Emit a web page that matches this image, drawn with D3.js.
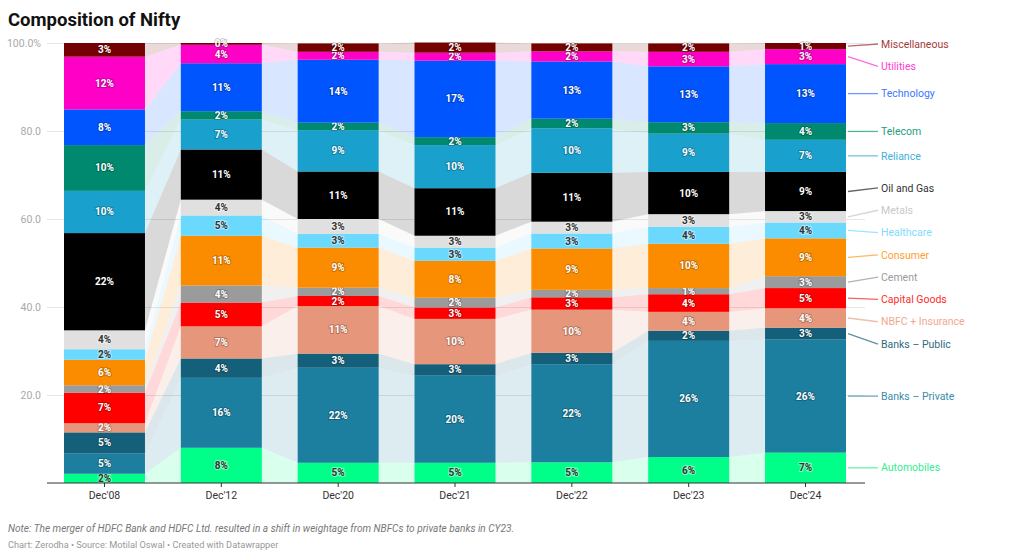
<!DOCTYPE html>
<html>
<meta charset="utf-8">
<style>
    body { margin: 0; background: #fff; }
    svg { display: block; font-family: Roboto, 'Noto Sans', sans-serif; }
    g.tick > text { font-family: Roboto, sans-serif; }
</style>
<body>
<svg width="1024" height="558"></svg>

<script src="https://d3js.org/d3.v7.min.js"></script>
<script>
    // years on the x axis
    let years = ["Dec'08", "Dec'12", "Dec'20", "Dec'21", "Dec'22", "Dec'23", "Dec'24"];

    // sectors, bottom of the stack first
    let sectors = ["Automobiles", "Banks – Private", "Banks – Public", "NBFC + Insurance",
                   "Capital Goods", "Cement", "Consumer", "Healthcare", "Metals",
                   "Oil and Gas", "Reliance", "Telecom", "Technology", "Utilities", "Miscellaneous"];

    // weight in Nifty (%), same order as sectors
    let dec08 = [2.1, 4.6, 4.8, 2.1, 6.9, 1.7, 5.8, 2.4, 4.3, 22.1, 9.6, 10.4, 8.1, 12.0, 3.1];
    let dec12 = [8.0, 15.9, 4.4, 7.3, 5.4, 3.9, 11.3, 4.6, 3.6, 11.4, 6.8, 1.9, 10.9, 4.2, 0.4];
    let dec20 = [4.6, 21.6, 3.2, 10.8, 2.3, 1.9, 9.1, 3.1, 3.4, 10.8, 9.4, 1.7, 14.3, 1.8, 1.9];
    let dec21 = [4.6, 19.8, 2.6, 10.3, 2.6, 2.2, 8.4, 3.0, 2.7, 10.8, 9.8, 1.8, 17.4, 1.8, 2.3];
    let dec22 = [4.7, 22.3, 2.6, 9.8, 2.8, 1.7, 9.4, 3.4, 2.7, 11.1, 10.1, 2.2, 13.0, 2.3, 1.8];
    let dec23 = [5.9, 26.4, 2.3, 4.3, 4.0, 1.4, 10.1, 3.8, 2.9, 9.6, 8.7, 2.6, 12.7, 3.3, 1.9];
    let dec24 = [6.9, 25.7, 2.7, 4.4, 4.6, 2.7, 8.6, 3.6, 2.6, 8.9, 7.3, 3.8, 13.4, 3.4, 1.4];

    let yTicks = [20, 40, 60, 80, 100];

    let colors = ["#00ff88", "#1c7fa0", "#145f79", "#e6967a", "#ff0000", "#9b9b9b", "#fb8c00",
                  "#6bd8fd", "#e0e0e0", "#000000", "#19a0cc", "#00896e", "#0055fe", "#ff00c6", "#750000"];
    let labelColors = ["#33ee8f", "#3a8cab", "#2f6a82", "#f0a88f", "#ff2a2a", "#9a9a9a", "#ffa030",
                       "#80dcfc", "#c8c8c8", "#333333", "#3fb0d8", "#1f9c80", "#3a78ff", "#ff3dd2", "#a33a3a"];
    let darkText = ["Automobiles", "Metals", "Healthcare"];

    let allYears = [dec08, dec12, dec20, dec21, dec22, dec23, dec24];
    let rows = years.map(function(yr, i) {
        let row = {year: yr};
        sectors.forEach(function(s, j) { row[s] = allYears[i][j]; });
        return row;
    });
    let colorOf = {}, labelColorOf = {};
    sectors.forEach(function(s, j) { colorOf[s] = colors[j]; labelColorOf[s] = labelColors[j]; });

    let plotLeft = 47, plotRight = 865;

    let svg = d3.select("svg");

    let x = d3.scaleBand().domain(years).range([64, 846]).paddingInner(0.307).paddingOuter(0);
    let y = d3.scaleLinear().domain([0, 100]).range([483, 43]);
    let bw = x.bandwidth();

    let series = d3.stack().keys(sectors)(rows);

    // title
    svg.append("text").attr("x", 8).attr("y", 26)
        .text("Composition of Nifty")
        .style("font-size", "18.5px").style("font-weight", "700").style("fill", "#111");

    // y grid + labels
    let yAxis = svg.append("g")
        .attr("transform", "translate(" + plotLeft + ",0)")
        .call(d3.axisLeft(y).tickValues(yTicks)
            .tickSize(-(plotRight - plotLeft)).tickPadding(6)
            .tickFormat(function(d) { return d === 100 ? "100.0%" : d.toFixed(1); }));
    yAxis.select(".domain").remove();
    yAxis.selectAll(".tick line").attr("stroke", "#e6e6e6");
    yAxis.selectAll(".tick text").style("font-size", "10.5px").style("fill", "#aaaaaa");

    // flows between bars
    let area = d3.area()
        .x(function(d) { return d.x; })
        .y0(function(d) { return y(d.y0); })
        .y1(function(d) { return y(d.y1); });

    svg.append("g").selectAll("path")
        .data(series)
        .join("path")
        .attr("d", function(s) {
            let pts = [];
            s.forEach(function(d) {
                let x0 = x(d.data.year);
                pts.push({x: x0, y0: d[0], y1: d[1]});
                pts.push({x: x0 + bw, y0: d[0], y1: d[1]});
            });
            return area(pts);
        })
        .style("fill", function(s) { return colorOf[s.key]; })
        .style("opacity", 0.15);

    // bars
    let layers = svg.append("g").selectAll("g")
        .data(series)
        .join("g")
        .style("fill", function(s) { return colorOf[s.key]; });

    layers.selectAll("rect")
        .data(function(s) { return s.map(function(d) { d.key = s.key; return d; }); })
        .join("rect")
        .attr("x", function(d) { return x(d.data.year); })
        .attr("y", function(d) { return y(d[1]); })
        .attr("width", bw)
        .attr("height", function(d) { return y(d[0]) - y(d[1]); });

    // value labels
    layers.selectAll("text")
        .data(function(s) { return s; })
        .join("text")
        .attr("x", function(d) { return x(d.data.year) + bw / 2; })
        .attr("y", function(d) { return (y(d[0]) + y(d[1])) / 2; })
        .attr("text-anchor", "middle")
        .attr("dy", "0.35em")
        .text(function(d) { return Math.round(d[1] - d[0]) + "%"; })
        .style("font-size", "10px")
        .style("font-weight", "700")
        .style("paint-order", "stroke")
        .style("stroke-width", 2)
        .style("stroke", function(d) { return darkText.includes(d.key) ? "rgba(255,255,255,0.5)" : "rgba(0,0,0,0.22)"; })
        .style("fill", function(d) { return darkText.includes(d.key) ? "#333" : "#fff"; });

    // x axis
    let xAxis = svg.append("g")
        .attr("transform", "translate(0," + y(0) + ")")
        .call(d3.axisBottom(x).tickSize(4).tickSizeOuter(0).tickPadding(5));
    xAxis.select(".domain").remove();
    xAxis.selectAll(".tick line").attr("stroke", "#333");
    xAxis.selectAll(".tick text").style("font-size", "10.5px").style("fill", "#333");
    svg.append("line")
        .attr("x1", plotLeft).attr("x2", plotRight)
        .attr("y1", y(0)).attr("y2", y(0))
        .attr("stroke", "#333").attr("stroke-width", 1);

    // direct labels on the right, spread so they do not collide
    let last = series.map(function(s) {
        let d = s[s.length - 1];
        return {key: s.key, y: (y(d[0]) + y(d[1])) / 2};
    }).sort(function(a, b) { return a.y - b.y; });

    let gap = 22.3, minY = 44;
    let clusters = last.map(function(d) { return [d]; });
    function clusterTop(c) {
        let m = d3.mean(c, function(d) { return d.y; });
        return Math.max(minY, m - (c.length - 1) * gap / 2);
    }
    let merged = true;
    while (merged) {
        merged = false;
        for (let i = 0; i < clusters.length - 1; i++) {
            let a = clusters[i], b = clusters[i + 1];
            let aEnd = clusterTop(a) + (a.length - 1) * gap;
            if (clusterTop(b) - aEnd < gap) {
                clusters.splice(i, 2, a.concat(b));
                merged = true;
                break;
            }
        }
    }
    clusters.forEach(function(c) {
        let t = clusterTop(c);
        c.forEach(function(d, i) { d.ly = t + i * gap; });
    });

    let legend = svg.append("g").selectAll("g")
        .data(last)
        .join("g");
    legend.append("line")
        .attr("x1", 848).attr("y1", function(d) { return d.y; })
        .attr("x2", 878).attr("y2", function(d) { return d.ly; })
        .attr("stroke", function(d) { return labelColorOf[d.key]; })
        .attr("stroke-width", 1.3)
        .attr("opacity", 0.75);
    legend.append("text")
        .attr("x", 881).attr("y", function(d) { return d.ly; })
        .attr("dy", "0.35em")
        .text(function(d) { return d.key; })
        .style("font-size", "10.5px")
        .style("fill", function(d) { return labelColorOf[d.key]; });

    // notes
    svg.append("text").attr("x", 8).attr("y", 532)
        .text("Note: The merger of HDFC Bank and HDFC Ltd. resulted in a shift in weightage from NBFCs to private banks in CY23.")
        .style("font-size", "10.1px").style("font-style", "italic").style("fill", "#777");
    svg.append("text").attr("x", 8).attr("y", 548)
        .text("Chart: Zerodha • Source: Motilal Oswal • Created with Datawrapper")
        .style("font-size", "9.2px").style("fill", "#999");
</script>
</body>
</html>
